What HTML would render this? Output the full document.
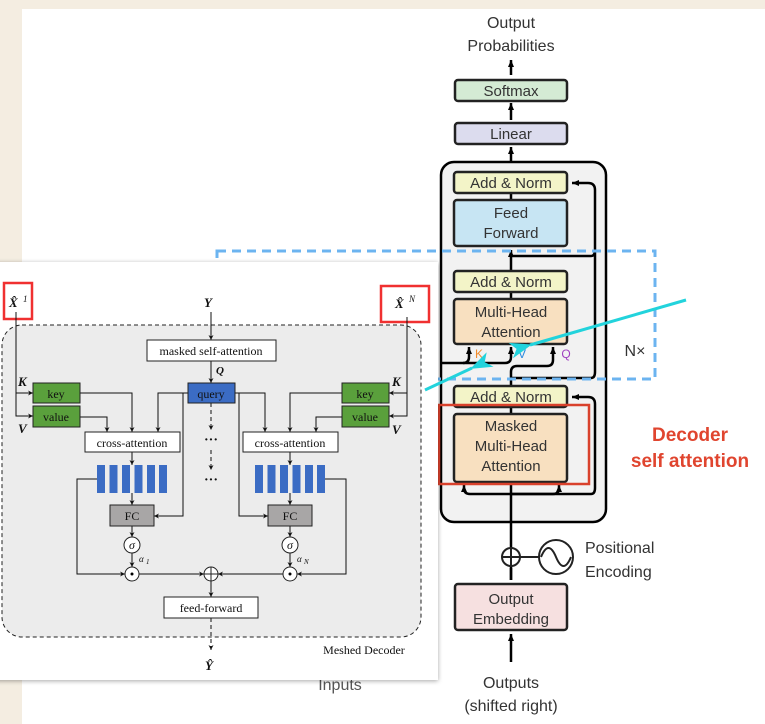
<!DOCTYPE html>
<html><head><meta charset="utf-8"><style>
html,body{margin:0;padding:0;background:#f4ede1;}
svg{display:block}
.s{font-family:"Liberation Sans",sans-serif;fill:#333}
.r{font-family:"Liberation Serif",serif;fill:#111}
</style></head><body>
<svg width="765" height="724" viewBox="0 0 765 724" xmlns="http://www.w3.org/2000/svg">
<defs>
<marker id="a" markerWidth="8" markerHeight="8" refX="7" refY="4" orient="auto" markerUnits="userSpaceOnUse"><path d="M0,1 L7,4 L0,7 Z" fill="#000"/></marker>
<marker id="b" markerWidth="6" markerHeight="6" refX="5" refY="3" orient="auto" markerUnits="userSpaceOnUse"><path d="M0,0.5 L5,3 L0,5.5 L1.5,3 Z" fill="#111"/></marker>
<marker id="t" markerWidth="24" markerHeight="16" refX="2" refY="8" orient="auto" markerUnits="userSpaceOnUse"><path d="M22,0 L0,8 L22,16 L16,8 Z" fill="#22d3dc"/></marker>
<filter id="sh" x="-5%" y="-5%" width="110%" height="110%"><feDropShadow dx="0" dy="1" stdDeviation="2.5" flood-color="#000" flood-opacity="0.35"/></filter>
</defs>
<rect x="0" y="0" width="765" height="724" fill="#f4ede1"/>
<rect x="22" y="9" width="743" height="715" fill="#fff"/>

<!-- Right transformer -->
<g stroke="#000" stroke-width="2.5" fill="none">
<line x1="511" y1="75" x2="511" y2="60" marker-end="url(#a)"/>
<line x1="511" y1="120" x2="511" y2="103" marker-end="url(#a)"/>
<line x1="511" y1="172" x2="511" y2="147" marker-end="url(#a)"/>
<rect x="441" y="162" width="165" height="360" rx="13" fill="#f2f2f2"/>
<line x1="511" y1="580" x2="511" y2="386"/>
<line x1="511" y1="299" x2="511" y2="292"/>
<line x1="511" y1="271" x2="511" y2="250" marker-end="url(#a)"/>
<line x1="511" y1="200" x2="511" y2="193"/>
<path d="M511,378 H591 Q595,378 595,372 V190 Q595,183 588,183 H572" marker-end="url(#a)"/>
<path d="M511,256 H591 Q595,256 595,250"/>
<path d="M511,494 H591 Q595,494 595,488 V404 Q595,397 588,397 H572" marker-end="url(#a)"/>
<path d="M511,386 V372 Q511,366 517,366 H547 Q553,366 553,360 V347" marker-end="url(#a)"/>
<path d="M441,363 H463 Q469,363 469,357 V347" marker-end="url(#a)"/>
<path d="M463,363 H505 Q511,363 511,357 V347" marker-end="url(#a)"/>
<path d="M511,494 H470 Q464,494 464,488 V485" marker-end="url(#a)"/>
<path d="M511,494 H553 Q559,494 559,488 V485" marker-end="url(#a)"/>
</g>
<g stroke="#222" stroke-width="2.5">
<rect x="455" y="80" width="112" height="21" rx="3" fill="#d4ebd4"/>
<rect x="455" y="123" width="112" height="21" rx="3" fill="#dcdcee"/>
<rect x="454" y="172" width="113" height="21" rx="3" fill="#f3f4c8"/>
<rect x="454" y="200" width="113" height="46" rx="3" fill="#c7e5f3"/>
<rect x="454" y="271" width="113" height="21" rx="3" fill="#f3f4c8"/>
<rect x="454" y="299" width="113" height="45" rx="3" fill="#f8e0c0"/>
<rect x="454" y="386" width="113" height="21" rx="3" fill="#f3f4c8"/>
<rect x="454" y="414" width="113" height="68" rx="3" fill="#f8e0c0"/>
<rect x="455" y="584" width="112" height="46" rx="3" fill="#f6e0e0"/>
</g>
<rect x="439" y="405" width="150" height="79" fill="none" stroke="#d9412c" stroke-width="2.5"/>
<g class="s" font-size="15" text-anchor="middle">
<text x="511" y="28" font-size="16">Output</text><text x="511" y="51" font-size="16">Probabilities</text>
<text x="511" y="96">Softmax</text><text x="511" y="139">Linear</text>
<text x="511" y="188">Add &amp; Norm</text>
<text x="511" y="218">Feed</text><text x="511" y="238">Forward</text>
<text x="511" y="287">Add &amp; Norm</text>
<text x="511" y="317">Multi-Head</text><text x="511" y="337">Attention</text>
<text x="511" y="402">Add &amp; Norm</text>
<text x="511" y="431">Masked</text><text x="511" y="451">Multi-Head</text><text x="511" y="471">Attention</text>
<text x="511" y="604">Output</text><text x="511" y="624">Embedding</text>
<text x="511" y="688" font-size="16">Outputs</text><text x="511" y="711" font-size="16">(shifted right)</text>
<text x="585" y="553" text-anchor="start" font-size="16">Positional</text><text x="585" y="577" text-anchor="start" font-size="16">Encoding</text>
<text x="635" y="356" font-size="16">N×</text>
<text x="340" y="690" fill="#555" font-size="16">Inputs</text>
</g>
<text x="479" y="358" font-family="Liberation Sans" font-size="12" fill="#f08a2a" text-anchor="middle">K</text>
<text x="522" y="358" font-family="Liberation Sans" font-size="12" fill="#2a8ae0" text-anchor="middle">V</text>
<text x="566" y="358" font-family="Liberation Sans" font-size="12" fill="#a040c0" text-anchor="middle">Q</text>
<g stroke="#222" stroke-width="2" fill="#fff">
<circle cx="511" cy="557" r="9"/><line x1="502" y1="557" x2="520" y2="557"/><line x1="511" y1="548" x2="511" y2="566"/>
<line x1="520" y1="557" x2="539" y2="557"/>
<circle cx="556" cy="557" r="17"/>
<path d="M541,557 C546,545 551,545 556,557 C561,569 566,569 571,557" fill="none"/>
</g>
<line x1="511" y1="662" x2="511" y2="634" stroke="#000" stroke-width="2.5" marker-end="url(#a)"/>
<line x1="511" y1="580" x2="511" y2="568" stroke="#000" stroke-width="2.5"/>
<text x="690" y="441" font-family="Liberation Sans" font-weight="bold" font-size="19" fill="#e0452f" text-anchor="middle">Decoder</text>
<text x="690" y="467" font-family="Liberation Sans" font-weight="bold" font-size="19" fill="#e0452f" text-anchor="middle">self attention</text>
<rect x="217" y="251" width="438" height="128" fill="none" stroke="#6cb4f0" stroke-width="3" stroke-dasharray="9,6"/>

<!-- Left card -->
<rect x="-5" y="262" width="443" height="418" fill="#fff" filter="url(#sh)"/>
<rect x="2" y="325" width="419" height="312" rx="20" fill="#ececec" stroke="#222" stroke-width="1" stroke-dasharray="4,3"/>
<rect x="4" y="283" width="28" height="36" fill="none" stroke="#f03030" stroke-width="2.5"/>
<rect x="381" y="286" width="48" height="36" fill="none" stroke="#f03030" stroke-width="2.5"/>
<g class="r" font-style="italic" font-weight="bold" font-size="13">
<text x="9" y="307">X̂</text><text x="395" y="308">X̂</text>
<text x="204" y="307">Y</text><text x="205" y="670">Ŷ</text>
<text x="18" y="386">K</text><text x="18" y="433">V</text>
<text x="392" y="386">K</text><text x="392" y="434">V</text>
<text x="216" y="374" font-size="11">Q</text>
</g>
<g class="r" font-style="italic" font-size="9">
<text x="23" y="302">1</text><text x="409" y="302">N</text>
<text x="139" y="562">α</text><text x="146" y="564" font-size="7">1</text>
<text x="297" y="562">α</text><text x="304" y="564" font-size="7">N</text>
</g>
<g stroke="#111" stroke-width="1" fill="none">
<line x1="211" y1="312" x2="211" y2="340" marker-end="url(#b)"/>
<line x1="211" y1="361" x2="211" y2="383" marker-end="url(#b)"/>
<path d="M16,312 V416 H33" marker-end="url(#b)"/><path d="M16,393 H33" marker-end="url(#b)"/>
<path d="M407,317 V416 H389" marker-end="url(#b)"/><path d="M407,393 H389" marker-end="url(#b)"/>
<path d="M80,393 H132 V432" marker-end="url(#b)"/>
<path d="M80,417 H107 V432" marker-end="url(#b)"/>
<path d="M188,393 H158 V432" marker-end="url(#b)"/>
<path d="M183,393 V516 H154" marker-end="url(#b)"/>
<path d="M235,393 H265 V432" marker-end="url(#b)"/>
<path d="M239,393 V516 H268" marker-end="url(#b)"/>
<path d="M342,393 H290 V432" marker-end="url(#b)"/>
<path d="M342,417 H316 V432" marker-end="url(#b)"/>
<line x1="132" y1="452" x2="132" y2="465" marker-end="url(#b)"/>
<line x1="290" y1="452" x2="290" y2="465" marker-end="url(#b)"/>
<line x1="132" y1="493" x2="132" y2="505" marker-end="url(#b)"/>
<line x1="290" y1="493" x2="290" y2="505" marker-end="url(#b)"/>
<line x1="132" y1="526" x2="132" y2="537" marker-end="url(#b)"/>
<line x1="290" y1="526" x2="290" y2="537" marker-end="url(#b)"/>
<line x1="132" y1="553" x2="132" y2="567" marker-end="url(#b)"/>
<line x1="290" y1="553" x2="290" y2="567" marker-end="url(#b)"/>
<path d="M97,479 H77 V574 H125" marker-end="url(#b)"/>
<path d="M325,479 H346 V574 H297" marker-end="url(#b)"/>
<line x1="139" y1="574" x2="204" y2="574" marker-end="url(#b)"/>
<line x1="283" y1="574" x2="218" y2="574" marker-end="url(#b)"/>
<line x1="211" y1="581" x2="211" y2="597" marker-end="url(#b)"/>
<line x1="211" y1="403" x2="211" y2="430" stroke-dasharray="4,3" marker-end="url(#b)"/>
<line x1="211" y1="450" x2="211" y2="470" stroke-dasharray="4,3" marker-end="url(#b)"/>
<line x1="211" y1="618" x2="211" y2="650" stroke-dasharray="4,3" marker-end="url(#b)"/>
</g>
<g font-family="Liberation Serif" font-size="14" fill="#111" text-anchor="middle">
<text x="211" y="444" font-weight="bold">···</text><text x="211" y="484" font-weight="bold">···</text>
</g>
<g stroke="#222" stroke-width="1">
<rect x="147" y="340" width="129" height="21" fill="#fff"/>
<rect x="188" y="383" width="47" height="20" fill="#3b6cc4"/>
<rect x="33" y="383" width="47" height="20" fill="#5aa03c"/>
<rect x="33" y="406" width="47" height="21" fill="#5aa03c"/>
<rect x="342" y="383" width="47" height="20" fill="#5aa03c"/>
<rect x="342" y="406" width="47" height="21" fill="#5aa03c"/>
<rect x="85" y="432" width="95" height="20" fill="#fff"/>
<rect x="243" y="432" width="95" height="20" fill="#fff"/>
<rect x="110" y="505" width="44" height="21" fill="#a8a6a6"/>
<rect x="268" y="505" width="44" height="21" fill="#a8a6a6"/>
<rect x="164" y="597" width="94" height="21" fill="#fff"/>
<circle cx="132" cy="545" r="8" fill="#fff"/><circle cx="290" cy="545" r="8" fill="#fff"/>
<circle cx="132" cy="574" r="7" fill="#fff"/><circle cx="290" cy="574" r="7" fill="#fff"/>
<circle cx="211" cy="574" r="7" fill="#fff"/>
<line x1="204" y1="574" x2="218" y2="574"/><line x1="211" y1="567" x2="211" y2="581"/>
</g>
<circle cx="132" cy="574" r="1.5" fill="#000"/><circle cx="290" cy="574" r="1.5" fill="#000"/>
<g fill="#3b6cc4">
<rect x="97" y="465" width="8" height="28"/><rect x="109.5" y="465" width="8" height="28"/><rect x="122" y="465" width="8" height="28"/><rect x="134.5" y="465" width="8" height="28"/><rect x="147" y="465" width="8" height="28"/><rect x="159" y="465" width="8" height="28"/>
<rect x="255" y="465" width="8" height="28"/><rect x="267.5" y="465" width="8" height="28"/><rect x="280" y="465" width="8" height="28"/><rect x="292.5" y="465" width="8" height="28"/><rect x="305" y="465" width="8" height="28"/><rect x="317" y="465" width="8" height="28"/>
</g>
<g font-family="Liberation Serif" font-size="12" fill="#111" text-anchor="middle">
<text x="211" y="355">masked self-attention</text>
<text x="211" y="398">query</text>
<text x="56" y="398">key</text><text x="56" y="421">value</text>
<text x="365" y="398">key</text><text x="365" y="421">value</text>
<text x="132" y="447">cross-attention</text><text x="290" y="447">cross-attention</text>
<text x="132" y="520">FC</text><text x="290" y="520">FC</text>
<text x="132" y="549" font-style="italic">σ</text><text x="290" y="549" font-style="italic">σ</text>
<text x="211" y="612">feed-forward</text>
<text x="364" y="654">Meshed Decoder</text>
</g>

<!-- teal arrows -->
<line x1="686" y1="300" x2="530" y2="345" stroke="#22d3dc" stroke-width="3" marker-end="url(#t)"/>
<line x1="425" y1="390" x2="472" y2="368" stroke="#22d3dc" stroke-width="3" marker-end="url(#t)"/>
</svg>
</body></html>
